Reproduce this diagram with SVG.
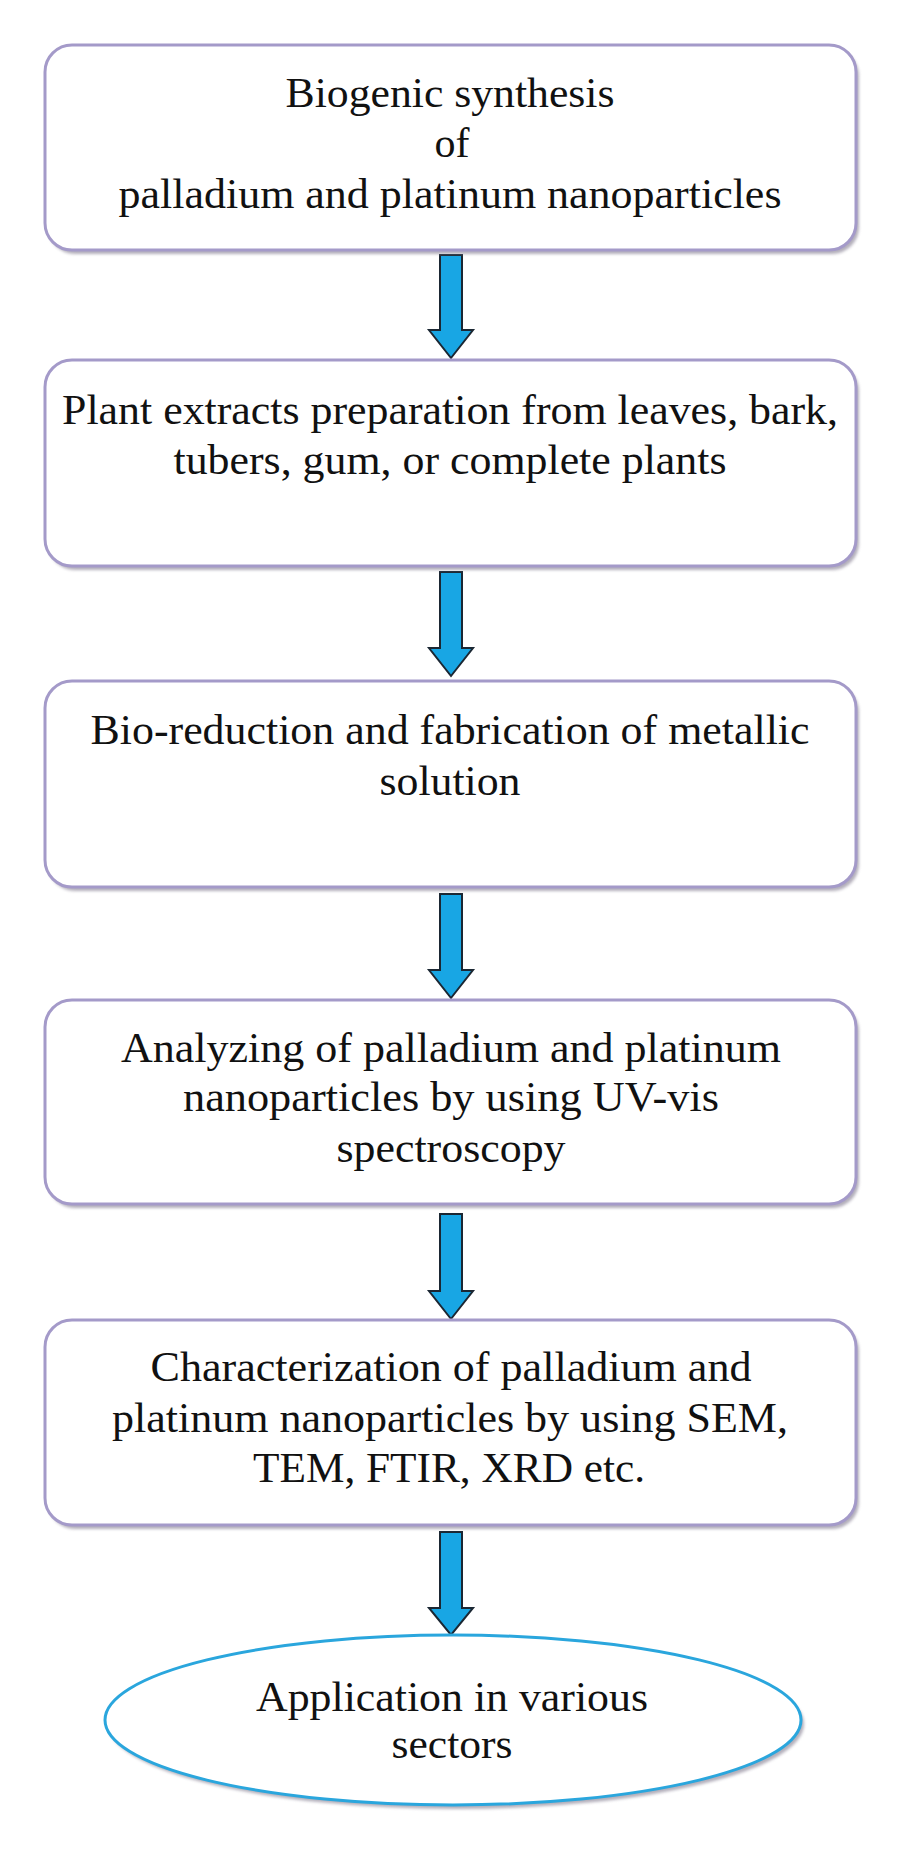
<svg xmlns="http://www.w3.org/2000/svg" width="903" height="1861" viewBox="0 0 903 1861">
<defs>
<style>
.box{fill:#ffffff;stroke:#a49ac9;stroke-width:3}
.sh{fill:#8a8496;opacity:0.65;filter:url(#blur)}
.ell{fill:#ffffff;stroke:#2aa6dd;stroke-width:3}
.t{font-family:"Liberation Serif","Times New Roman",serif;font-size:42px;fill:#111;text-anchor:middle}
.arr{fill:#18a6e4;stroke:#1b2733;stroke-width:2;stroke-linejoin:miter}
</style>
<filter id="blur" x="-5%" y="-5%" width="110%" height="110%"><feGaussianBlur stdDeviation="1.5"/></filter>
</defs>
<rect width="903" height="1861" fill="#ffffff"/>
<g id="connectors">
<path class="arr" d="M440,255 H462 V330 H473 L451,358 L429,330 H440 Z"/>
<path class="arr" d="M440,572 H462 V648 H473 L451,676 L429,648 H440 Z"/>
<path class="arr" d="M440,894 H462 V970 H473 L451,998 L429,970 H440 Z"/>
<path class="arr" d="M440,1214 H462 V1291 H473 L451,1319 L429,1291 H440 Z"/>
<path class="arr" d="M440,1532 H462 V1608 H473 L451,1635 L429,1608 H440 Z"/>
</g>
<g id="node1">
<rect class="sh" x="48" y="49" width="811" height="205" rx="27"/>
<rect class="box" x="45" y="45" width="811" height="205" rx="27"/>
<text class="t" x="450" y="107" textLength="329" lengthAdjust="spacingAndGlyphs">Biogenic synthesis</text>
<text class="t" x="452" y="157">of</text>
<text class="t" x="450" y="208" textLength="663" lengthAdjust="spacingAndGlyphs">palladium and platinum nanoparticles</text>
</g>
<g id="node2">
<rect class="sh" x="48" y="364" width="811" height="206" rx="27"/>
<rect class="box" x="45" y="360" width="811" height="206" rx="27"/>
<text class="t" x="450" y="424" textLength="776" lengthAdjust="spacingAndGlyphs">Plant extracts preparation from leaves, bark,</text>
<text class="t" x="450" y="474" textLength="553" lengthAdjust="spacingAndGlyphs">tubers, gum, or complete plants</text>
</g>
<g id="node3">
<rect class="sh" x="48" y="685" width="811" height="206" rx="27"/>
<rect class="box" x="45" y="681" width="811" height="206" rx="27"/>
<text class="t" x="450" y="744" textLength="719" lengthAdjust="spacingAndGlyphs">Bio-reduction and fabrication of metallic</text>
<text class="t" x="450" y="795" textLength="141" lengthAdjust="spacingAndGlyphs">solution</text>
</g>
<g id="node4">
<rect class="sh" x="48" y="1004" width="811" height="204" rx="27"/>
<rect class="box" x="45" y="1000" width="811" height="204" rx="27"/>
<text class="t" x="451" y="1062" textLength="660" lengthAdjust="spacingAndGlyphs">Analyzing of palladium and platinum</text>
<text class="t" x="451" y="1111" textLength="536" lengthAdjust="spacingAndGlyphs">nanoparticles by using UV-vis</text>
<text class="t" x="451" y="1162" textLength="229" lengthAdjust="spacingAndGlyphs">spectroscopy</text>
</g>
<g id="node5">
<rect class="sh" x="48" y="1324" width="811" height="205" rx="27"/>
<rect class="box" x="45" y="1320" width="811" height="205" rx="27"/>
<text class="t" x="451" y="1381" textLength="601" lengthAdjust="spacingAndGlyphs">Characterization of palladium and</text>
<text class="t" x="450" y="1432" textLength="676" lengthAdjust="spacingAndGlyphs">platinum nanoparticles by using SEM,</text>
<text class="t" x="449" y="1482" textLength="392" lengthAdjust="spacingAndGlyphs">TEM, FTIR, XRD etc.</text>
</g>
<g id="node6">
<ellipse class="sh" cx="456" cy="1724" rx="348" ry="85"/>
<ellipse class="ell" cx="453" cy="1720" rx="348" ry="85"/>
<text class="t" x="452" y="1711" textLength="392" lengthAdjust="spacingAndGlyphs">Application in various</text>
<text class="t" x="452" y="1758" textLength="121" lengthAdjust="spacingAndGlyphs">sectors</text>
</g>
</svg>
